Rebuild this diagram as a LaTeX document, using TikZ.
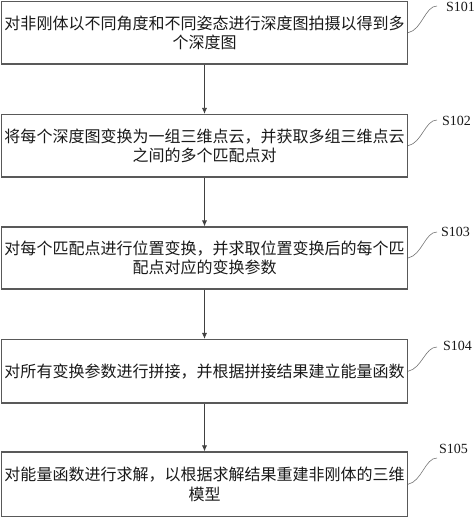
\documentclass[tikz,border=0pt]{standalone}
\usepackage{fontspec}
\setmainfont{Liberation Serif}
\newfontfamily\cjk{Noto Sans CJK SC}
\usetikzlibrary{arrows.meta}
\begin{document}
\begin{tikzpicture}[x=1pt,y=-1pt,
  stepbox/.style={draw=black!65,line width=1.1pt,rectangle,minimum width=406pt,inner sep=0pt,
    align=center,font=\cjk\fontsize{16}{19.5}\selectfont,text=black!90},
  flow/.style={draw=black!75,line width=0.8pt,-{Latex[length=6pt,width=5pt]}},
  leader/.style={draw=black!55,line width=0.6pt},
  steplabel/.style={anchor=west,inner sep=0pt,font=\fontsize{14}{15}\selectfont,text=black!90}]
\useasboundingbox (0,0) rectangle (474,518);
\node[stepbox,minimum height=62.5pt] (b1) at (204.5,32.75) {对非刚体以不同角度和不同姿态进行深度图拍摄以得到多\\个深度图};
\node[stepbox,minimum height=62.5pt] (b2) at (204.5,145.75) {将每个深度图变换为一组三维点云，并获取多组三维点云\\之间的多个匹配点对};
\node[stepbox,minimum height=62pt] (b3) at (204.5,258) {对每个匹配点进行位置变换，并求取位置变换后的每个匹\\配点对应的变换参数};
\node[stepbox,minimum height=63.5pt] (b4) at (204.5,371.25) {对所有变换参数进行拼接，并根据拼接结果建立能量函数};
\node[stepbox,minimum height=64.5pt] (b5) at (204.5,484.25) {对能量函数进行求解，以根据求解结果重建非刚体的三维\\模型};
\draw[flow] (b1.south) -- (b2.north);
\draw[flow] (b2.south) -- (b3.north);
\draw[flow] (b3.south) -- (b4.north);
\draw[flow] (b4.south) -- (b5.north);
\coordinate (e1) at (437,6);
\coordinate (e2) at (437,120);
\coordinate (e3) at (437,232);
\coordinate (e4) at (437,347);
\coordinate (e5) at (437,458);
\draw[leader] (b1.east) .. controls +(14,-3) and +(-12,0) .. (e1);
\draw[leader] (b2.east) .. controls +(14,-3) and +(-12,0) .. (e2);
\draw[leader] (b3.east) .. controls +(14,-3) and +(-12,0) .. (e3);
\draw[leader] (b4.east) .. controls +(14,-3) and +(-12,0) .. (e4);
\draw[leader] (b5.east) .. controls +(14,-3) and +(-12,0) .. (e5);
\node[steplabel] (l1) at (446,7) {S101};
\node[steplabel] (l2) at (442,121) {S102};
\node[steplabel] (l3) at (441,232) {S103};
\node[steplabel] (l4) at (443,346) {S104};
\node[steplabel] (l5) at (439,449) {S105};
\end{tikzpicture}
\end{document}
